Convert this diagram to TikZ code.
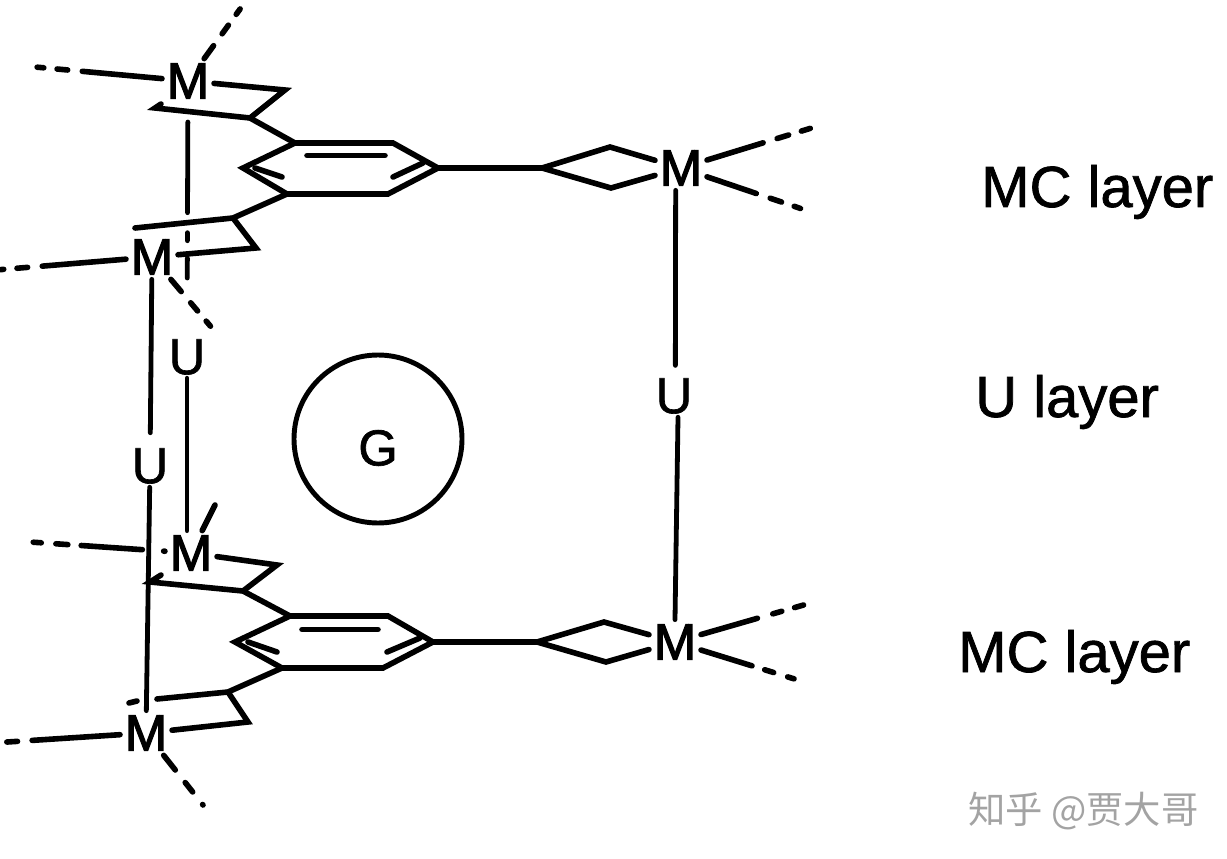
\documentclass[tikz,border=0pt]{standalone}
\usepackage{fontspec}
\setmainfont{Liberation Sans}
\newfontfamily\heavyfont[FakeBold=1.3]{Liberation Sans}
\newfontfamily\atomfont[FakeBold=2.4]{Liberation Sans}
\newfontfamily\cjkfont{Noto Sans CJK SC}
\tikzset{
  atomM/.style={inner sep=3.5pt,font=\atomfont\fontsize{38}{40}\selectfont},
  atomU/.style={inner sep=2.5pt,font=\heavyfont\fontsize{38}{40}\selectfont},
  bond/.style={line width=4.2pt,line cap=round,line join=miter},
  bridge/.style={line width=3.6pt,line cap=round},
  ligand/.style={bond,dash pattern=on #1 off 11pt on 8pt off 10pt on 5pt off 300pt},
  layerlabel/.style={anchor=base west,inner sep=0pt,font=\heavyfont\fontsize{43.5}{45}\selectfont}
}
\begin{document}
\begin{tikzpicture}[x=0.75pt,y=0.75pt,yscale=-1,xscale=1]
\useasboundingbox (0,0) rectangle (1227,859);
% metal sites
\node [atomM] (M1) at (188,81) {M};
\node [atomM] (M2) at (152,257) {M};
\node [atomM] (M3) at (191,553) {M};
\node [atomM] (M4) at (146,733) {M};
\node [atomM] (M5) at (681,168) {M};
\node [atomM] (M6) at (675,642) {M};
\node [atomU] (U1) at (187,357) {U};
\node [atomU] (U2) at (150,466) {U};
\node [atomU] (U3) at (674,396) {U};
\node [atomU] (G1) at (378,448) {G};
\node [draw,circle,line width=3.7pt,minimum size=126pt,inner sep=0pt] (cage) at (378,439) {};
% free ends
\coordinate (e1a) at (35,67);
\coordinate (e1b) at (243,5);
\coordinate (e2a) at (-4,270);
\coordinate (e2b) at (212,328);
\coordinate (e3a) at (30,542);
\coordinate (e3b) at (215,505);
\coordinate (e4a) at (-8,743);
\coordinate (e4b) at (203,805);
\coordinate (e5a) at (818,126);
\coordinate (e5b) at (805,210);
\coordinate (e6a) at (807,604);
\coordinate (e6b) at (801,681);
% upper ring
\coordinate (a1) at (295,143);
\coordinate (a2) at (393,143);
\coordinate (a3) at (438,168);
\coordinate (a4) at (388,194);
\coordinate (a5) at (287,194);
\coordinate (a6) at (243,168);
\draw [bond] (a1) -- (a2) -- (a3) -- (a4) -- (a5) -- (a6) -- cycle;
\draw [bond] (307,155.5) -- (385,155.5);
\draw [bond] (255,168) -- (282,177);
\draw [bond] (393,177) -- (423,163);
% lower ring
\coordinate (b1) at (290,616);
\coordinate (b2) at (388,616);
\coordinate (b3) at (433,642);
\coordinate (b4) at (383,668);
\coordinate (b5) at (282,668);
\coordinate (b6) at (235,642);
\draw [bond] (b1) -- (b2) -- (b3) -- (b4) -- (b5) -- (b6) -- cycle;
\draw [bond] (302,629.5) -- (378,629.5);
\draw [bond] (248,642) -- (277,652);
\draw [bond] (387,652) -- (420,638);
% chelate arms
\draw [bond] (M1) -- (285,90) -- (250,118) -- (155,108) -- (161,104);
\draw [bond] (a1) -- (250,118);
\draw [bond] (a5) -- (233,218) -- (135,228);
\draw [bond] (233,218) -- (256,248) -- (M2);
\draw [bond] (M3) -- (277,565) -- (243,591) -- (150,582) -- (161,575);
\draw [bond] (b1) -- (243,591);
\draw [bond] (b5) -- (228,692) -- (157,699);
\draw [bond] (129,703) -- (137,701);
\draw [bond] (228,692) -- (248,722) -- (M4);
\draw [bond] (a3) -- (542,168) -- (610,147) -- (M5);
\draw [bond] (542,168) -- (611,188) -- (M5);
\draw [bond] (b3) -- (537,642) -- (604,622) -- (M6);
\draw [bond] (537,642) -- (606,662) -- (M6);
% dashed ligands
\draw [ligand=60pt] (M1) -- (e1a);
\draw [ligand=12pt] (M1) -- (e1b);
\draw [ligand=63pt] (M2) -- (e2a);
\draw [ligand=12pt] (M2) -- (e2b);
\draw [bond,dash pattern=on 1pt off 16pt on 46pt off 10pt on 9pt off 11pt on 6pt off 300pt] (M3) -- (e3a);
\draw [bond] (M3) -- (e3b);
\draw [ligand=66pt] (M4) -- (e4a);
\draw [bond,dash pattern=on 14pt off 12pt on 9pt off 12pt on 7pt off 300pt] (M4) -- (e4b);
\draw [bond,dash pattern=on 44pt off 11pt on 9pt off 10pt on 7pt off 300pt] (M5) -- (e5a);
\draw [bond,dash pattern=on 39pt off 11pt on 9pt off 10pt on 5pt off 300pt] (M5) -- (e5b);
\draw [bond,dash pattern=on 44pt off 12pt on 7pt off 10pt on 7pt off 300pt] (M6) -- (e6a);
\draw [bond,dash pattern=on 40pt off 10pt on 7pt off 11pt on 5pt off 300pt] (M6) -- (e6b);
% uranyl bridges
\draw [bridge,shorten <=14pt,dash pattern=on 68pt off 15pt on 6pt off 13pt on 15pt off 300pt] (M1) -- (U1);
\draw [bridge] (U1.south) -- (U1.south |- M3.north);
\draw [bridge,shorten >=9pt] (M2) -- (U2);
\draw [bridge] (U2) -- (M4);
\draw [bridge,shorten >=7pt] ([xshift=-4pt]M5.south) -- ([xshift=1pt]U3.north);
\draw [bridge] ([xshift=3pt]U3.south) -- (M6.north);
% layer labels
\node [layerlabel] (L1) at (981,207) {MC layer};
\node [layerlabel] (L2) at (975,417) {U layer};
\node [layerlabel] (L3) at (958,672) {MC layer};
\node [anchor=base west,inner sep=0pt,text=black!36,font=\cjkfont\fontsize{28}{30}\selectfont] (mark) at (968,823) {知乎 @贾大哥};
\end{tikzpicture}
\end{document}
